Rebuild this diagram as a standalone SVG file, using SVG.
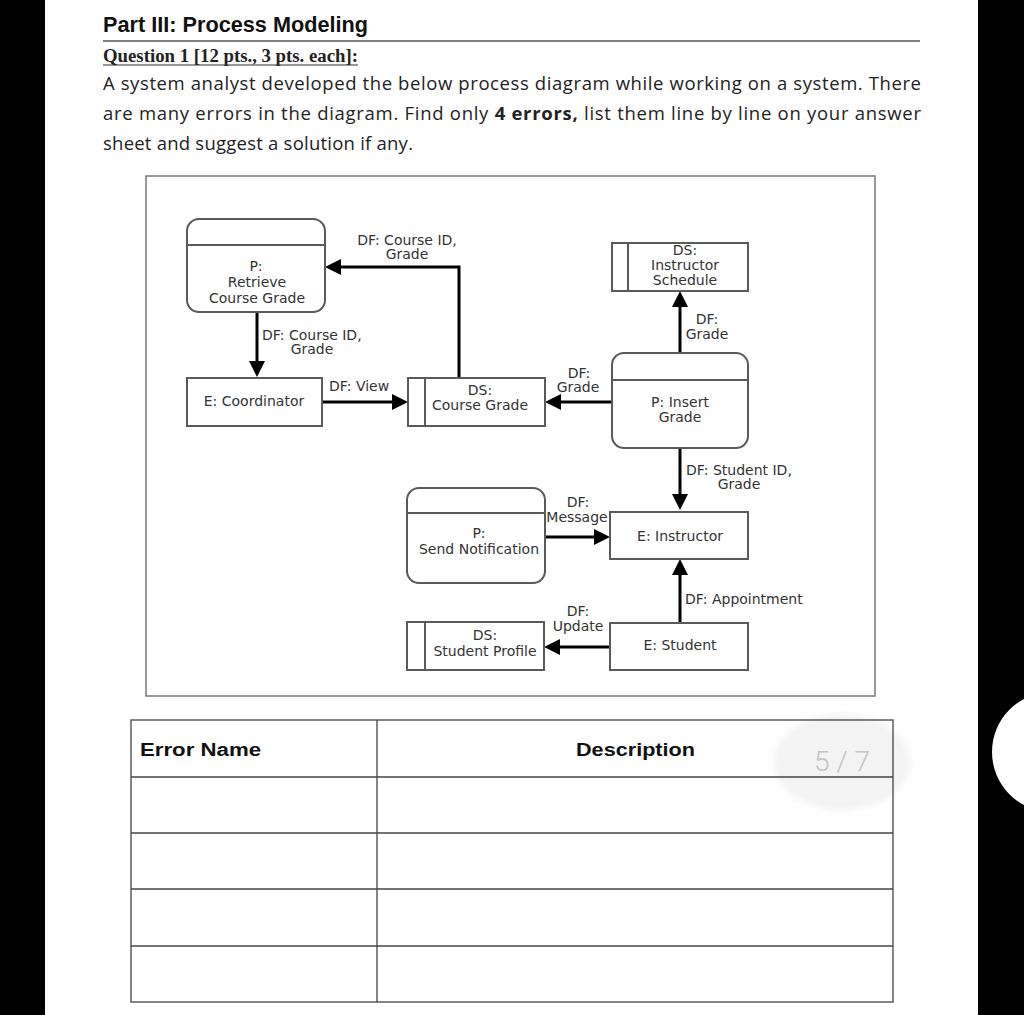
<svg xmlns="http://www.w3.org/2000/svg" width="1024" height="1015" viewBox="0 0 1024 1015">
<style>
.node{fill:#fff;stroke:#5a5a5a;stroke-width:2}
.div{stroke:#5a5a5a;stroke-width:2}
.t{font-family:"DejaVu Sans",Verdana,sans-serif;font-size:14px;fill:#333;text-anchor:middle}
.l{font-family:"DejaVu Sans",Verdana,sans-serif;font-size:14px;fill:#333}
.flow{fill:none;stroke:#000;stroke-width:3;marker-end:url(#ah)}
.p{font-family:"Open Sans","Liberation Sans",sans-serif;font-size:18.5px;fill:#222}
.th{font-family:"Liberation Sans",Arial,sans-serif;font-size:18px;font-weight:bold;fill:#111}
.tbl{stroke:#444;stroke-width:1.3;fill:none}
</style>
<defs>
<marker id="ah" viewBox="0 0 16 16" refX="1" refY="8" markerWidth="16" markerHeight="16" markerUnits="userSpaceOnUse" orient="auto">
<path d="M0,0 L16,8 L0,16 z" fill="#000"/>
</marker>
<filter id="soft" x="-30%" y="-30%" width="160%" height="160%"><feGaussianBlur stdDeviation="3"/></filter>
</defs>
<rect x="0" y="0" width="1024" height="1015" fill="#fff"/>
<rect x="0" y="0" width="45" height="1015" fill="#000"/>
<rect x="978" y="0" width="46" height="1015" fill="#000"/>
<circle cx="1052" cy="752" r="60" fill="#fff"/>

<!-- Header text -->
<text x="103" y="32" font-family="Liberation Sans,Arial,sans-serif" font-size="21.5" font-weight="bold" fill="#111" textLength="265" lengthAdjust="spacingAndGlyphs">Part III: Process Modeling</text>
<line x1="103" y1="41" x2="920" y2="41" stroke="#555" stroke-width="1.5"/>
<text x="103" y="62" font-family="Liberation Serif,Times New Roman,serif" font-size="18.5" font-weight="bold" fill="#222" textLength="255" lengthAdjust="spacingAndGlyphs">Question 1 [12 pts., 3 pts. each]:</text>
<line x1="103" y1="65" x2="358" y2="65" stroke="#333" stroke-width="1"/>
<text class="p" x="103" y="90" textLength="818" lengthAdjust="spacing">A system analyst developed the below process diagram while working on a system. There</text>
<text class="p" x="103" y="120" textLength="818" lengthAdjust="spacing">are many errors in the diagram. Find only <tspan font-weight="bold">4 errors,</tspan> list them line by line on your answer</text>
<text class="p" x="103" y="150" textLength="310" lengthAdjust="spacing">sheet and suggest a solution if any.</text>

<!-- Diagram frame -->
<rect x="146" y="176" width="729" height="520" fill="#fff" stroke="#777" stroke-width="1.5"/>

<g id="connectors">
<path class="flow" d="M459,378 V267 H340"/>
<path class="flow" d="M257,312 V362"/>
<path class="flow" d="M322,402 H393"/>
<path class="flow" d="M612,402 H560"/>
<path class="flow" d="M680,353 V306"/>
<path class="flow" d="M680,448 V495"/>
<path class="flow" d="M545,537 H595"/>
<path class="flow" d="M680,623 V574"/>
<path class="flow" d="M610,647 H559"/>
<text class="t" x="407" y="245">DF: Course ID,</text>
<text class="t" x="407" y="259">Grade</text>
<text class="l" x="262" y="340">DF: Course ID,</text>
<text class="t" x="312" y="354">Grade</text>
<text class="l" x="329" y="391">DF: View</text>
<text class="t" x="579" y="378">DF:</text>
<text class="t" x="578" y="392">Grade</text>
<text class="t" x="707" y="324">DF:</text>
<text class="t" x="707" y="339">Grade</text>
<text class="l" x="686" y="475">DF: Student ID,</text>
<text class="t" x="739" y="489">Grade</text>
<text class="t" x="578" y="507">DF:</text>
<text class="t" x="577" y="522">Message</text>
<text class="l" x="685" y="604">DF: Appointment</text>
<text class="t" x="578" y="616">DF:</text>
<text class="t" x="578" y="631">Update</text>
</g>

<g id="p-retrieve">
<rect class="node" x="187" y="219" width="138" height="93" rx="12"/>
<line class="div" x1="187" y1="245" x2="325" y2="245"/>
<text class="t" x="256" y="271">P:</text>
<text class="t" x="257" y="287">Retrieve</text>
<text class="t" x="257" y="303">Course Grade</text>
</g>
<g id="e-coordinator">
<rect class="node" x="187" y="378" width="135" height="48"/>
<text class="t" x="254" y="406">E: Coordinator</text>
</g>
<g id="ds-course-grade">
<rect class="node" x="408" y="378" width="137" height="48"/>
<line class="div" x1="425" y1="378" x2="425" y2="426"/>
<text class="t" x="480" y="395">DS:</text>
<text class="t" x="480" y="410">Course Grade</text>
</g>
<g id="ds-instructor-schedule">
<rect class="node" x="612" y="243" width="136" height="48"/>
<line class="div" x1="628" y1="243" x2="628" y2="291"/>
<text class="t" x="685" y="255">DS:</text>
<text class="t" x="685" y="270">Instructor</text>
<text class="t" x="685" y="285">Schedule</text>
</g>
<g id="p-insert-grade">
<rect class="node" x="612" y="353" width="136" height="95" rx="12"/>
<line class="div" x1="612" y1="380" x2="748" y2="380"/>
<text class="t" x="680" y="407">P: Insert</text>
<text class="t" x="680" y="422">Grade</text>
</g>
<g id="p-send-notification">
<rect class="node" x="407" y="488" width="138" height="95" rx="12"/>
<line class="div" x1="407" y1="513" x2="545" y2="513"/>
<text class="t" x="479" y="538">P:</text>
<text class="t" x="479" y="554">Send Notification</text>
</g>
<g id="e-instructor">
<rect class="node" x="610" y="512" width="138" height="47"/>
<text class="t" x="680" y="541">E: Instructor</text>
</g>
<g id="e-student">
<rect class="node" x="610" y="623" width="138" height="47"/>
<text class="t" x="680" y="650">E: Student</text>
</g>
<g id="ds-student-profile">
<rect class="node" x="407" y="622" width="137" height="48"/>
<line class="div" x1="425" y1="622" x2="425" y2="670"/>
<text class="t" x="485" y="640">DS:</text>
<text class="t" x="485" y="656">Student Profile</text>
</g>

<!-- Answer table -->
<ellipse cx="842" cy="762" rx="68" ry="48" fill="#f3f3f3" filter="url(#soft)"/>
<rect class="tbl" x="131" y="720" width="762" height="282"/>
<line class="tbl" x1="377" y1="720" x2="377" y2="1002"/>
<line class="tbl" x1="131" y1="777" x2="893" y2="777"/>
<line class="tbl" x1="131" y1="833" x2="893" y2="833"/>
<line class="tbl" x1="131" y1="889" x2="893" y2="889"/>
<line class="tbl" x1="131" y1="946" x2="893" y2="946"/>
<text class="th" x="140" y="756" textLength="121" lengthAdjust="spacingAndGlyphs">Error Name</text>
<text class="th" x="576" y="756" textLength="119" lengthAdjust="spacingAndGlyphs">Description</text>
<text x="842" y="771" font-family="Roboto,sans-serif" font-size="28" font-weight="300" fill="#c4c4c4" text-anchor="middle">5 / 7</text>
</svg>
